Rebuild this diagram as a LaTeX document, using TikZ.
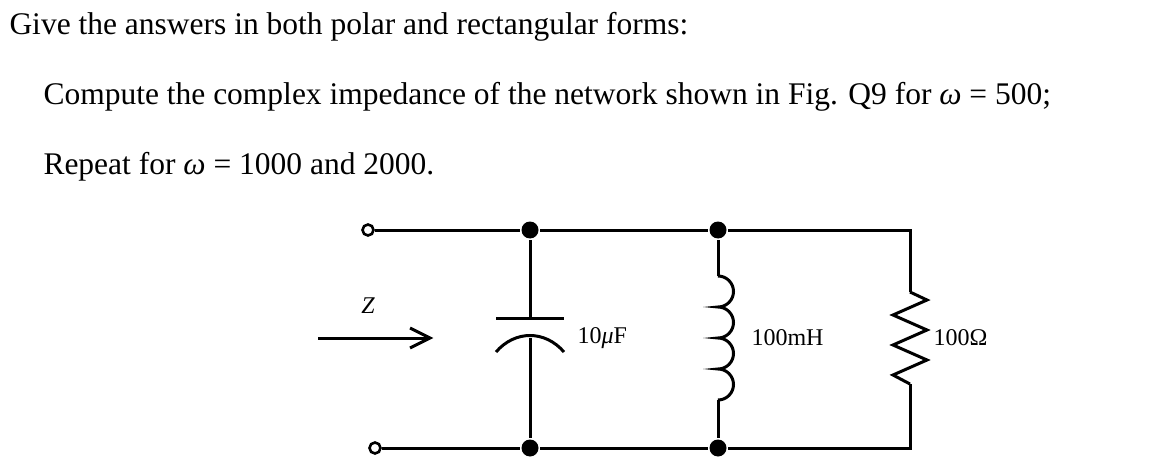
\documentclass[tikz,border=0pt]{standalone}
\usepackage{fontspec}
\setmainfont{Liberation Serif}
\newcommand{\om}{\textit{ω}}
\begin{document}
\begin{tikzpicture}[x=1pt,y=-1pt,line width=3pt,
  big/.style={font=\fontsize{31.5}{36}\selectfont,anchor=base west,inner sep=0},
  lab/.style={font=\fontsize{24}{28}\selectfont,anchor=west,inner sep=0},
  dot/.style={circle,fill,inner sep=0,minimum size=17pt},
  term/.style={circle,draw,fill=white,line width=2.6pt,inner sep=0,minimum size=11pt}]
\useasboundingbox (0,0) rectangle (1152,476);
\node[big] (t1) at (8,35) {Give the answers in both polar and rectangular forms:};
\node[big] (t2) at (42,105) {Compute the complex impedance of the network shown in Fig. Q9 for \om{} = 500;};
\node[big] (t3) at (42,175) {Repeat for \om{} = 1000 and 2000.};
\coordinate (rt) at (910,230); \coordinate (rb) at (910,448);
\node[dot] (ct) at (530,230) {}; \node[dot] (cb) at (530,448) {};
\node[dot] (lt) at (718,230) {}; \node[dot] (lb) at (718,448) {};
\draw (ct) -- (lt) -- (rt) -- (910,292);
\draw (cb) -- (lb) -- (rb) -- (910,384);
\draw (ct) -- (530,318) (496,318) -- (564,318);
\draw (496,352) .. controls (515,330) and (545,330) .. (564,352);
\draw (530,338) -- (cb);
\draw (lt) -- (718,276);
\draw (718,276) arc (-90:90:15.5) arc (-90:90:15.5) arc (-90:90:15.5) arc (-90:90:15.5);
\draw (718,400) -- (lb);
\draw (910,292) -- (927,300) -- (893,315) -- (927,330) -- (893,345) -- (927,360) -- (893,375) -- (910,384);
\node[term] (a) at (368,230) {}; \node[term] (b) at (375,448) {};
\draw (a) -- (ct); \draw (b) -- (cb);
\coordinate (as) at (318,338); \coordinate (ae) at (430,338);
\draw (as) -- (ae);
\draw (410,328) -- (ae) -- (410,348);
\node[lab,anchor=center,font=\fontsize{24}{28}\selectfont\itshape] (z) at (368,306) {Z};
\node[lab] (l1) at (576,338) {10\textit{μ}F};
\node[lab] (l2) at (750,338) {100mH};
\node[lab] (l3) at (932,338) {100Ω};
\end{tikzpicture}
\end{document}
